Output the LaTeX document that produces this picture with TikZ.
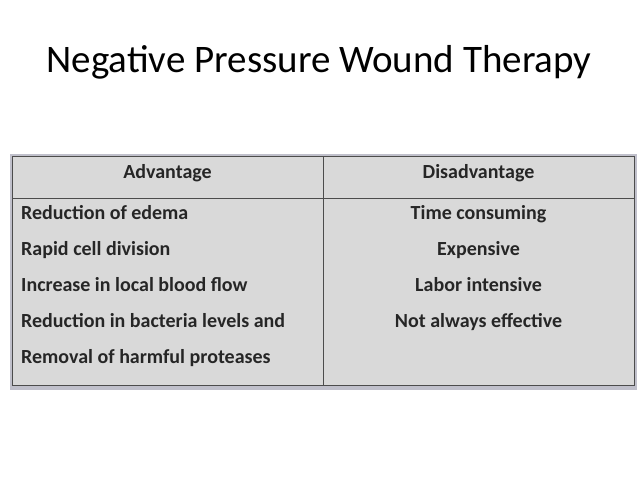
\documentclass[tikz,border=0pt]{standalone}
\usepackage{fontspec}
\setmainfont{Carlito}
\begin{document}
\begin{tikzpicture}[x=1pt,y=-1pt,
	cell/.style={font=\fontsize{20}{24}\selectfont\bfseries,text=black!85,inner sep=0pt,text height=10pt,text depth=4pt},
	head/.style={cell}]
	\useasboundingbox (0,0) rectangle (638,478);
	\fill[white] (0,0) rectangle (638,478);
	\node[font=\fontsize{39}{44}\selectfont,inner sep=0pt] (title) at (319,62) {Negative Pressure Wound Therapy};
	% table
	\fill[blue!10!gray!45] (10,154) rectangle (637,390);
	\draw[fill=gray!30,draw=black!70,line width=1] (12,157) rectangle (634,386);
	\draw[black!70,line width=1] (12,199) -- (634,199);
	\draw[black!70,line width=1] (323,157) -- (323,386);
	\node[head] (adv) at (167.5,176) {Advantage};
	\node[head] (dis) at (478.5,176) {Disadvantage};
	\node[cell,anchor=west] (a1) at (21,217) {Reduction of edema};
	\node[cell,anchor=west] (a2) at (21,253) {Rapid cell division};
	\node[cell,anchor=west] (a3) at (21,289) {Increase in local blood flow};
	\node[cell,anchor=west] (a4) at (21,325) {Reduction in bacteria levels and};
	\node[cell,anchor=west] (a5) at (21,361) {Removal of harmful proteases};
	\node[cell] (d1) at (478.5,217) {Time consuming};
	\node[cell] (d2) at (478.5,253) {Expensive};
	\node[cell] (d3) at (478.5,289) {Labor intensive};
	\node[cell] (d4) at (478.5,325) {Not always effective};
\end{tikzpicture}
\end{document}
